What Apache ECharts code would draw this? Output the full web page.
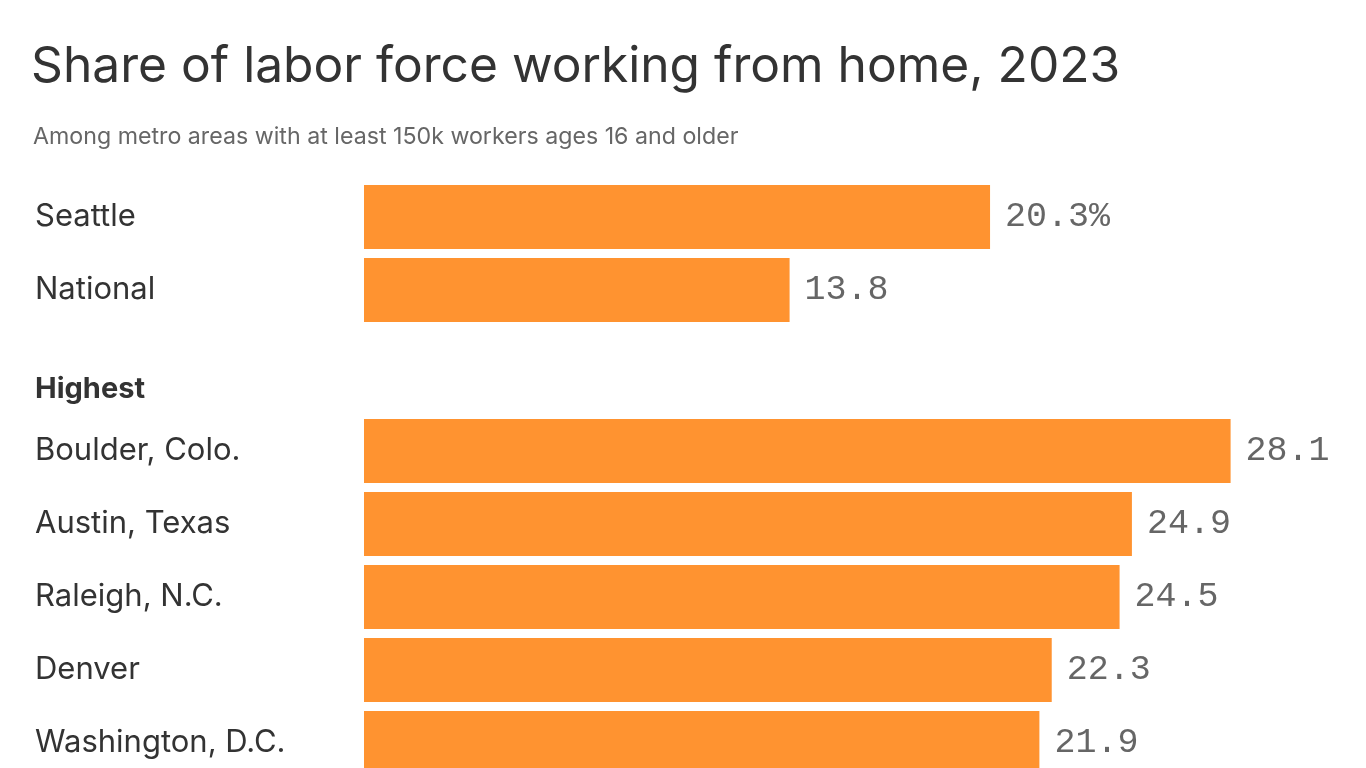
<!DOCTYPE html>
<html><head><meta charset="utf-8">
<script src="https://cdn.jsdelivr.net/npm/echarts@6/dist/echarts.min.js"></script>
<style>html,body{margin:0;padding:0;background:#fff;overflow:hidden}#c{width:1366px;height:800px}</style>
</head><body><div id="c"></div>
<script>
const topCategories = ['Seattle', 'National'];
const topValues = [20.3, 13.8];
const highestHeader = 'Highest';
const highestCategories = ['Boulder, Colo.', 'Austin, Texas', 'Raleigh, N.C.', 'Denver', 'Washington, D.C.'];
const highestValues = [28.1, 24.9, 24.5, 22.3, 21.9];

const BAR = '#ff9330';
const labelFont = {color: '#333', fontFamily: 'Inter', fontSize: 31, align: 'left', margin: 329};
const valueLabel = (first) => ({
  show: true, position: 'right', distance: 15,
  fontFamily: 'Liberation Mono', fontSize: 35, color: '#666',
  formatter: p => (first && p.dataIndex === 0) ? p.value.toFixed(1) + '%' : p.value.toFixed(1)
});
const chart = echarts.init(document.getElementById('c'));
chart.setOption({
  animation: false,
  title: [
    {text: 'Share of labor force working from home, 2023', left: 31, top: 42, padding: 0,
     textStyle: {fontFamily: 'Inter', fontSize: 49.7, fontWeight: 'normal', color: '#333'}},
    {text: 'Among metro areas with at least 150k workers ages 16 and older', left: 33, top: 126, padding: 0,
     textStyle: {fontFamily: 'Inter', fontSize: 23.2, fontWeight: 'normal', color: '#666'}},
    {text: highestHeader, left: 35, top: 375, padding: 0,
     textStyle: {fontFamily: 'Inter', fontSize: 29, fontWeight: 'bold', color: '#333'}}
  ],
  grid: [
    {left: 364, top: 180.5, height: 146, width: 925.2},
    {left: 364, top: 414.5, height: 365, width: 925.2}
  ],
  xAxis: [
    {gridIndex: 0, type: 'value', min: 0, max: 30, show: false},
    {gridIndex: 1, type: 'value', min: 0, max: 30, show: false}
  ],
  yAxis: [
    {gridIndex: 0, type: 'category', inverse: true, data: topCategories,
     axisLine: {show: false}, axisTick: {show: false}, axisLabel: labelFont},
    {gridIndex: 1, type: 'category', inverse: true, data: highestCategories,
     axisLine: {show: false}, axisTick: {show: false}, axisLabel: labelFont}
  ],
  series: [
    {type: 'bar', xAxisIndex: 0, yAxisIndex: 0, data: topValues, barWidth: 64,
     itemStyle: {color: BAR}, label: valueLabel(true)},
    {type: 'bar', xAxisIndex: 1, yAxisIndex: 1, data: highestValues, barWidth: 64,
     itemStyle: {color: BAR}, label: valueLabel(false)}
  ]
});
</script></body></html>
